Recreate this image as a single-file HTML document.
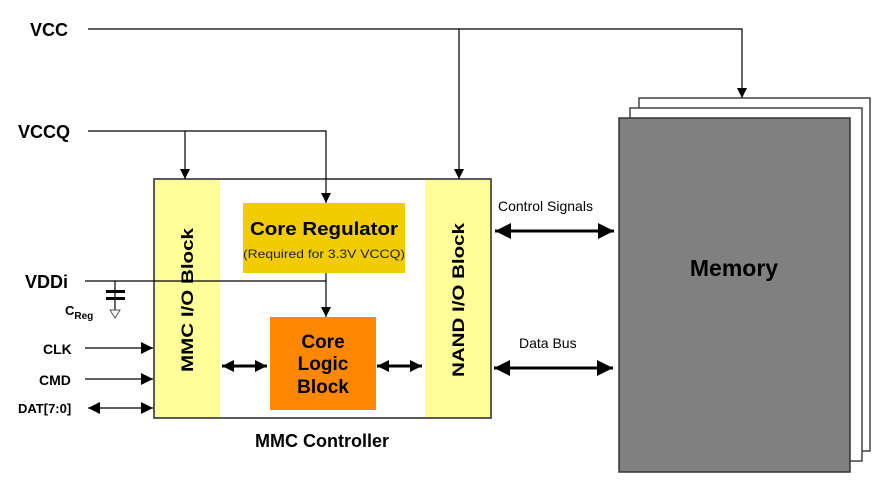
<!DOCTYPE html>
<html><head><meta charset="utf-8"><style>
body{margin:0;background:#fff;}
svg{display:block;font-family:"Liberation Sans",Arial,sans-serif;}
</style></head><body>
<svg width="889" height="491" viewBox="0 0 889 491">
<defs>
<marker id="a" viewBox="0 0 10 10" refX="10" refY="5" markerWidth="10" markerHeight="10" markerUnits="userSpaceOnUse" orient="auto"><path d="M0,0 L10,5 L0,10 z" fill="#000"/></marker>
<marker id="s" viewBox="0 0 10 10" refX="10" refY="5" markerWidth="16" markerHeight="12" markerUnits="userSpaceOnUse" orient="auto-start-reverse"><path d="M0,0 L10,5 L0,10 z" fill="#000"/></marker>
<marker id="b" viewBox="0 0 10 10" refX="10" refY="5" markerWidth="28" markerHeight="16" markerUnits="userSpaceOnUse" orient="auto-start-reverse"><path d="M0,0 L10,5 L0,10 z" fill="#000"/></marker>
</defs>
<rect x="639" y="98" width="231" height="353" fill="#fff" stroke="#444" stroke-width="1.5"/>
<rect x="630" y="108" width="232" height="353" fill="#fff" stroke="#444" stroke-width="1.5"/>
<rect x="619" y="118" width="231" height="354" fill="#808080" stroke="#333" stroke-width="1.5"/>
<text x="734" y="276" font-size="23" font-weight="bold" text-anchor="middle">Memory</text>
<rect x="154" y="179" width="337" height="239" fill="#fff" stroke="#444" stroke-width="1.5"/>
<rect x="155" y="180" width="65" height="237" fill="#ffff99"/>
<rect x="425" y="180" width="65" height="237" fill="#ffff99"/>
<rect x="154" y="179" width="337" height="239" fill="none" stroke="#444" stroke-width="1.5"/>
<text transform="translate(193,300) rotate(-90)" font-size="17" font-weight="bold" text-anchor="middle" textLength="144" lengthAdjust="spacingAndGlyphs">MMC I/O Block</text>
<text transform="translate(464,300) rotate(-90)" font-size="17" font-weight="bold" text-anchor="middle" textLength="154" lengthAdjust="spacingAndGlyphs">NAND I/O Block</text>
<rect x="243" y="203" width="162" height="70" fill="#f0cc00"/>
<text x="324" y="235" font-size="18" font-weight="bold" text-anchor="middle" textLength="148" lengthAdjust="spacingAndGlyphs">Core Regulator</text>
<text x="324" y="258" font-size="12" text-anchor="middle" fill="#222" textLength="162" lengthAdjust="spacingAndGlyphs">(Required for 3.3V VCCQ)</text>
<rect x="270" y="317" width="106" height="93" fill="#ff8800"/>
<text x="323" y="348" font-size="19" font-weight="bold" text-anchor="middle">Core</text>
<text x="323" y="370" font-size="19" font-weight="bold" text-anchor="middle">Logic</text>
<text x="323" y="393" font-size="19" font-weight="bold" text-anchor="middle">Block</text>
<text x="322" y="447" font-size="18" font-weight="bold" text-anchor="middle">MMC Controller</text>
<text x="30" y="36" font-size="18" font-weight="bold">VCC</text>
<text x="18" y="138" font-size="18" font-weight="bold">VCCQ</text>
<text x="25" y="288" font-size="18" font-weight="bold">VDDi</text>
<text x="65" y="315" font-size="13" font-weight="bold">C<tspan font-size="10" dy="4">Reg</tspan></text>
<text x="43" y="354" font-size="14" font-weight="bold">CLK</text>
<text x="39" y="385" font-size="14" font-weight="bold">CMD</text>
<text x="18" y="413" font-size="13" font-weight="bold">DAT[7:0]</text>
<text x="498" y="211" font-size="14">Control Signals</text>
<text x="519" y="348" font-size="14">Data Bus</text>
<g stroke="#000" stroke-width="1.2" fill="none">
<polyline points="88,29 742,29 742,98" marker-end="url(#a)"/>
<line x1="459" y1="29" x2="459" y2="179" marker-end="url(#a)"/>
<polyline points="88,131 326,131 326,203" marker-end="url(#a)"/>
<line x1="185" y1="131" x2="185" y2="179" marker-end="url(#a)"/>
<line x1="85" y1="281" x2="326" y2="281"/>
<line x1="326" y1="273" x2="326" y2="317" marker-end="url(#a)"/>
<line x1="115" y1="281" x2="115" y2="310"/>
<line x1="85" y1="348" x2="153" y2="348" marker-end="url(#s)"/>
<line x1="85" y1="379" x2="153" y2="379" marker-end="url(#s)"/>
<line x1="88" y1="408" x2="153" y2="408" marker-start="url(#s)" marker-end="url(#s)"/>
</g>
<rect x="106" y="290" width="19" height="3" fill="#000"/>
<rect x="106" y="297" width="19" height="3" fill="#000"/>
<path d="M110,310 L120,310 L115,318 z" fill="#fff" stroke="#555"/>
<g stroke="#000" stroke-width="3" fill="none">
<line x1="222" y1="366" x2="267" y2="366" marker-start="url(#s)" marker-end="url(#s)"/>
<line x1="377" y1="366" x2="422" y2="366" marker-start="url(#s)" marker-end="url(#s)"/>
<line x1="495" y1="231" x2="614" y2="231" marker-start="url(#b)" marker-end="url(#b)"/>
<line x1="494" y1="368" x2="613" y2="368" marker-start="url(#b)" marker-end="url(#b)"/>
</g>
</svg>
</body></html>
